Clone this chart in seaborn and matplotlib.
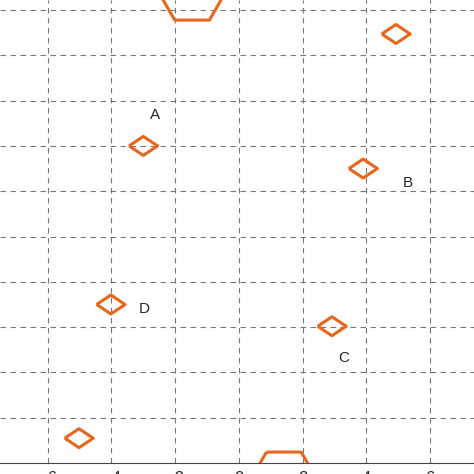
import matplotlib
matplotlib.use("Agg")
import matplotlib.pyplot as plt
import seaborn as sns
import pandas as pd

sns.set_style("white")
plt.rcParams['font.family'] = ['Liberation Sans', 'DejaVu Sans']

# diamond points
pts_x = [-3.0, 4.93, 3.9, -4.02, 2.92, -5.02]
pts_y = [7.0, 9.47, 6.5, 3.5, 3.02, 0.55]
# hexagons partly outside the view
hex_x = [-1.47, 1.41]
hex_y = [10.44, -0.42]
# labels
lab_text = ['A', 'B', 'C', 'D']
lab_x = [-2.64, 5.3, 3.3, -2.98]
lab_y = [7.68, 6.18, 2.32, 3.4]
xticks = [-6, -4, -2, 0, 2, 4, 6]

orange = '#e8661c'
wide_diamond = [(-1.5, 0), (0, 1), (1.5, 0), (0, -1), (-1.5, 0)]

fig = plt.figure(figsize=(4.74, 4.74), dpi=100)
ax = fig.add_axes([0, 0.023, 1, 0.977])

df = pd.DataFrame({'x': pts_x, 'y': pts_y})
sns.scatterplot(data=df, x='x', y='y', ax=ax, marker=wide_diamond, s=420,
                facecolor='none', edgecolor=orange, linewidth=2.2, zorder=3)
hdf = pd.DataFrame({'x': hex_x, 'y': hex_y})
sns.scatterplot(data=hdf, x='x', y='y', ax=ax, marker='H', s=2500,
                facecolor='none', edgecolor=orange, linewidth=2.2, zorder=3)
for t, x, y in zip(lab_text, lab_x, lab_y):
    ax.text(x, y, t, fontsize=11, ha='center', va='center')

ax.set_xlim(-7.5, 7.38)
ax.set_ylim(0, 10.22)
ax.set_xticks(xticks)
ax.set_yticks(range(0, 11))
ax.set_yticklabels([])
ax.grid(True, linestyle=(0, (5, 4)), color='#777777', linewidth=0.8)
for s in ['top', 'left', 'right']:
    ax.spines[s].set_visible(False)
ax.spines['bottom'].set_color('#444444')
ax.tick_params(axis='x', direction='in', labelsize=12, pad=6)
ax.tick_params(axis='y', length=0)
ax.set_xlabel('')
ax.set_ylabel('')
fig.savefig('out.png', dpi=100)
